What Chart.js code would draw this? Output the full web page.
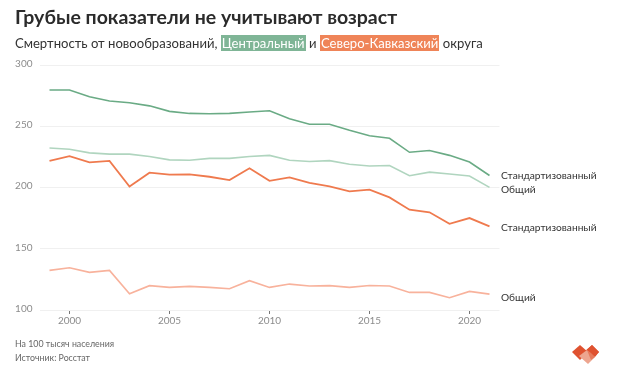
<!DOCTYPE html>
<html>
<head>
<meta charset="utf-8">
<script src="https://cdn.jsdelivr.net/npm/chart.js@4"></script>
<style>
  html, body { margin: 0; padding: 0; background: #fff; }
  #wrap { position: relative; width: 624px; height: 376px; overflow: hidden; font-family: Lato, "Noto Sans", sans-serif; }
  #chart { position: absolute; left: 0; top: 0; }
  .txt { position: absolute; white-space: nowrap; }
  #title { left: 15px; top: 5px; font-size: 19.5px; font-weight: 700; color: #2b2b2b; }
  #sub { left: 15px; top: 35px; font-size: 13.1px; color: #333; }
  #sub span { color: #fff; padding: 0 1px; }
  .note { left: 15px; font-size: 8.8px; color: #666; }
  #logo { position: absolute; left: 570px; top: 344px; }
</style>
</head>
<body>
<div id="wrap">
  <canvas id="chart" width="624" height="376"></canvas>
  <div class="txt" id="title">Грубые показатели не учитывают возраст</div>
  <div class="txt" id="sub">Смертность от новообразований, <span style="background:#7fb596">Центральный</span> и <span style="background:#ef8458">Северо-Кавказский</span> округа</div>
  <div class="txt note" style="top:338px">На 100 тысяч населения</div>
  <div class="txt note" style="top:352px">Источник: Росстат</div>
  <svg id="logo" width="32" height="24" viewBox="0 0 32 24">
    <polygon points="2,8 10,1 18,8 10,16" fill="#df5230"/>
    <polygon points="15,7 22,1 29,8 21,16" fill="#df5230"/>
    <polygon points="17,6 25,13 18,20 9,12" fill="#eda58f"/>
    <polygon points="17,6 22,1 29,8 25,13" fill="#df5230"/>
    <polygon points="17,6 21,9 25,13 21,16" fill="#e67a5c"/>
  </svg>
</div>
<script>
const years = [1999, 2000, 2001, 2002, 2003, 2004, 2005, 2006, 2007, 2008, 2009, 2010, 2011, 2012, 2013, 2014, 2015, 2016, 2017, 2018, 2019, 2020, 2021];
const centralStd = [280, 280, 274.5, 271, 269.5, 267, 262.5, 260.8, 260.5, 260.8, 262, 263, 256.5, 252, 252, 247, 242.5, 240.5, 229, 230.5, 226.5, 221, 210];
const centralAll = [232.5, 231.5, 228.5, 227.5, 227.5, 225.5, 222.8, 222.5, 224, 224, 225.5, 226.5, 222.5, 221.5, 222.2, 219.2, 217.8, 218.2, 209.8, 212.8, 211.2, 209.6, 200.3];
const caucasusStd = [222, 225.9, 220.8, 222, 201, 212.3, 210.7, 211, 209, 206.3, 215.9, 205.7, 208.5, 204, 201.2, 197, 198.4, 192.1, 182, 179.9, 170.5, 175.2, 168.4];
const caucasusAll = [132.4, 134.6, 130.8, 132.4, 113.3, 119.9, 118.5, 119.3, 118.5, 117.4, 124, 118.5, 121.2, 119.6, 119.9, 118.5, 120.1, 119.6, 114.4, 114.4, 110, 115.2, 113];
const seriesLabels = ["Стандартизованный", "Общий", "Стандартизованный", "Общий"];
const labelShift = [0, 2, 1.5, 4];
const yTicks = [100, 150, 200, 250, 300];
const xTicks = [2000, 2005, 2010, 2015, 2020];

function pairs(vals) {
  return vals.map((v, i) => ({ x: years[i], y: v }));
}

// labels at the right end of each line
const endLabels = {
  id: "endLabels",
  afterDatasetsDraw(chart) {
    const ctx = chart.ctx;
    ctx.save();
    ctx.font = '10.2px Lato, "Noto Sans", sans-serif';
    ctx.fillStyle = "#333";
    ctx.textBaseline = "middle";
    chart.data.datasets.forEach((ds, i) => {
      const last = ds.data[ds.data.length - 1];
      ctx.fillText(seriesLabels[i], 501, chart.scales.y.getPixelForValue(last.y) + labelShift[i]);
    });
    ctx.restore();
  },
};

new Chart(document.getElementById("chart").getContext("2d"), {
  type: "line",
  plugins: [endLabels],
  data: {
    datasets: [
      { data: pairs(centralStd), borderColor: "#6aab85", borderWidth: 1.6 },
      { data: pairs(centralAll), borderColor: "#b0d5bf", borderWidth: 1.6 },
      { data: pairs(caucasusStd), borderColor: "#ef7a4e", borderWidth: 1.8 },
      { data: pairs(caucasusAll), borderColor: "#f8b29c", borderWidth: 1.6 },
    ],
  },
  options: {
    responsive: false,
    animation: false,
    elements: { point: { radius: 0 }, line: { tension: 0 } },
    layout: { padding: { top: 65.5, right: 124.5, bottom: 0, left: 0 } },
    plugins: { legend: { display: false }, tooltip: { enabled: false } },
    scales: {
      x: {
        type: "linear",
        min: 1998.5,
        max: 2021.5,
        afterBuildTicks: (axis) => { axis.ticks = xTicks.map((v) => ({ value: v })); },
        afterFit: (axis) => { axis.height = 66; },
        grid: { drawOnChartArea: false, drawTicks: true, tickLength: 4, tickColor: "#777" },
        border: { display: false },
        ticks: {
          color: "#8c8c8c",
          font: { size: 10, family: 'Lato, "Noto Sans", sans-serif' },
          maxRotation: 0,
          padding: 1,
          callback: (v) => String(v),
        },
      },
      y: {
        min: 100,
        max: 300,
        afterBuildTicks: (axis) => { axis.ticks = yTicks.map((v) => ({ value: v })); },
        afterFit: (axis) => { axis.width = 39.5; },
        grid: { color: "#f0f0f0", lineWidth: 1, drawTicks: false },
        border: { display: false },
        ticks: {
          color: "#8c8c8c",
          font: { size: 10, family: 'Lato, "Noto Sans", sans-serif' },
          padding: 7,
          labelOffset: -1.5,
        },
      },
    },
  },
});
</script>
</body>
</html>
